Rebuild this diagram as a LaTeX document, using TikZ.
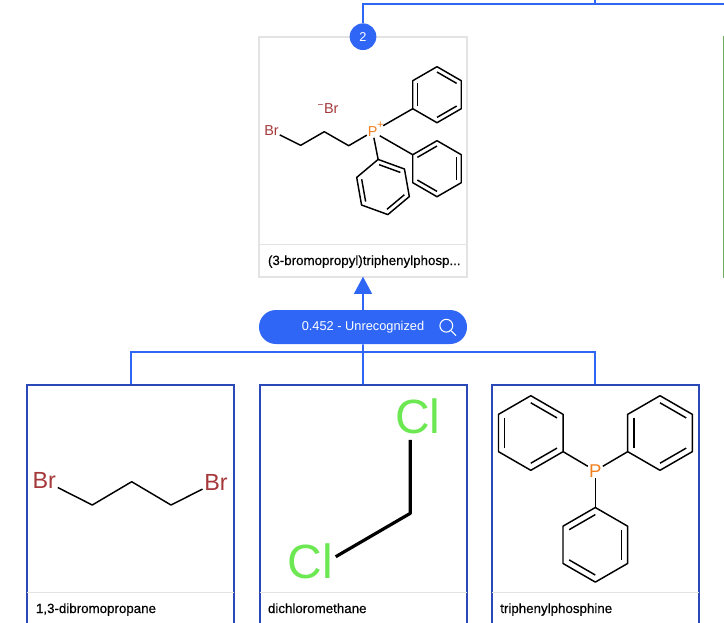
\documentclass[tikz,border=0pt]{standalone}
\usepackage{fontspec}
\setmainfont{Liberation Sans}
\newfontfamily\capfont[FakeBold=0.4]{Liberation Sans}
\usetikzlibrary{arrows.meta,calc}

\definecolor{linkblue}{HTML}{2F66F6}
\definecolor{cardblue}{HTML}{2A48B8}
\definecolor{cardgray}{HTML}{E3E3E3}
\definecolor{brcolor}{HTML}{A5383A}
\definecolor{pcolor}{HTML}{F08020}
\definecolor{clcolor}{HTML}{6CE852}
\definecolor{sidegreen}{HTML}{6FAF5F}

\newcommand{\phring}[6]{%
    \coordinate (#1c) at (#2,#3);
    \foreach \k in {1,...,6}
        \coordinate (#1\k) at ($(#1c)+({-150+60*\k+#5}:#4)$);
    \draw[bond] (#11) -- (#12) -- (#13) -- (#14) -- (#15) -- (#16) -- cycle;
    \foreach \a/\b in {#6}
        \draw[bond] ($(#1\a)!0.19!(#1c)$) -- ($(#1\b)!0.19!(#1c)$);
}

\begin{document}
\begin{tikzpicture}[x=0.75pt,y=-0.75pt,
    bond/.style={draw=black, line width=1.1pt, line join=round},
    thickbond/.style={draw=black, line width=2.4pt},
    link/.style={draw=linkblue, line width=1.3pt},
    cardbox/.style={rectangle, draw=cardblue, line width=1.4pt, minimum width=155.4pt, minimum height=200pt, inner sep=0pt},
    divider/.style={draw=cardgray, line width=0.7pt},
    caption/.style={anchor=base west, inner sep=0pt, font=\capfont\fontsize{10}{10}\selectfont},
    atomsmall/.style={inner sep=0.6pt, text=brcolor, font=\fontsize{10.8}{11}\selectfont},
    atombr/.style={inner sep=1.2pt, text=brcolor, font=\fontsize{17.5}{18}\selectfont},
    atomcl/.style={inner sep=4pt, text=clcolor, font=\fontsize{36}{36}\selectfont}]

    \clip (0,0) rectangle (724,622);

    % product card
    \node[cardbox, draw=cardgray, minimum height=180.2pt](cardtop) at (363,156.9) {};
    \draw[divider] (cardtop.west |- 0,244.5) -- (cardtop.east |- 0,244.5);
    \node[caption](nametop) at (267.7,265) {(3-bromopropyl)triphenylphosp...};

    \node[atomsmall](brend) at (271.5,130.7) {Br};
    \node[atomsmall](brion) at (328,109) {\textsuperscript{−}Br};
    \node[atomsmall, text=pcolor](ptop) at (372.7,131.7) {P};
    \node[inner sep=0pt, text=pcolor, font=\fontsize{8.5}{9}\selectfont](pplus) at (380.5,125.5) {+};
    \coordinate (ca) at (300.7,145.3);
    \coordinate (cb) at (324.3,131.7);
    \coordinate (cc) at (348.7,145.7);
    \draw[bond] (brend) -- (ca) -- (cb) -- (cc) -- (ptop);

    \phring{ringa}{437}{94.7}{28}{0}{1/2,3/4,5/6}
    \phring{ringb}{437}{168.7}{28}{0}{6/1,2/3,4/5}
    \phring{ringc}{383}{187}{28}{-10}{1/2,3/4,5/6}
    \draw[bond, shorten <=4pt] (ptop) -- (ringa5);
    \draw[bond, shorten <=1pt] (ptop) -- (ringb6);
    \draw[bond] (ptop) -- (ringc1);

    % reactant cards
    \node[cardbox](cardone) at (130.7,518.6) {};
    \node[cardbox](cardtwo) at (363.2,518.6) {};
    \node[cardbox](cardthree) at (595.3,518.6) {};
    \foreach \c in {cardone,cardtwo,cardthree}
        \draw[divider] ($(\c.west |- 0,592)+(1,0)$) -- ($(\c.east |- 0,592)+(-1,0)$);
    \node[caption](nameone) at (35.7,613) {1,3-dibromopropane};
    \node[caption](nametwo) at (267.7,613) {dichloromethane};
    \node[caption](namethree) at (500,613) {triphenylphosphine};

    \node[atombr](brleft) at (44.3,480.7) {Br};
    \node[atombr](brright) at (216,482.3) {Br};
    \coordinate (da) at (92.3,505);
    \coordinate (db) at (131.7,481.7);
    \coordinate (dc) at (171,505);
    \draw[bond] (brleft) -- (da) -- (db) -- (dc) -- (brright);

    \node[atomcl](clup) at (418,416.7) {Cl};
    \node[atomcl](cllow) at (310.5,561.7) {Cl};
    \coordinate (ch) at (410.3,513.3);
    \coordinate (chend) at (335.7,556.7);
    \draw[thickbond, line join=round] (clup.south -| ch) -- (ch) -- (chend);

    \node[inner sep=0.8pt, text=pcolor, font=\fontsize{13.9}{14}\selectfont](pthree) at (595.3,470.7) {P};
    \phring{ringl}{530.8}{433}{37.3}{0}{1/2,3/4,5/6}
    \phring{ringr}{660}{433}{37.3}{0}{1/2,3/4,5/6}
    \phring{ringd}{595.3}{544.8}{37.3}{0}{6/1,2/3,4/5}
    \draw[bond] (pthree) -- (ringl3);
    \draw[bond] (pthree) -- (ringr5);
    \draw[bond] (pthree) -- (ringd1);

    % tree above the reactants
    \node[rectangle, rounded corners=12.7pt, fill=linkblue, minimum width=156pt, minimum height=25.5pt, inner sep=0pt](pill) at (363,327) {};
    \node[text=white, inner sep=0pt, font=\fontsize{9.6}{10}\selectfont](pilltext) at (363,327) {0.452 - Unrecognized};
    \node[circle, draw=white, line width=0.8pt, minimum size=9.6pt, inner sep=0pt](lens) at (446.3,325.7) {};
    \coordinate (lensend) at (456,335.7);
    \draw[draw=white, line width=0.8pt] (lens) -- (lensend);

    \coordinate (hub) at (363,352);
    \draw[link] (pill) -- (cardtwo);
    \draw[link] (cardone.north) |- (hub) -| (cardthree.north);
    \draw[link, -{Triangle[length=13pt,width=13.5pt]}, shorten >=-1pt] (pill) -- (cardtop);

    % badge and the tree above it
    \node[circle, fill=linkblue, text=white, minimum size=20pt, inner sep=0pt, font=\fontsize{9.6}{10}\selectfont](badge) at (363,36.7) {2};
    \coordinate (topend) at (724,4);
    \coordinate (topdown) at (595,4);
    \coordinate (topup) at (595,0);
    \draw[link] (badge) |- (topend);
    \draw[link] (topup) -- (topdown);

    % edge of the next card
    \coordinate (sidea) at (723.5,36);
    \coordinate (sideb) at (723.5,278);
    \draw[draw=sidegreen, line width=1pt] (sidea) -- (sideb);

\end{tikzpicture}
\end{document}
